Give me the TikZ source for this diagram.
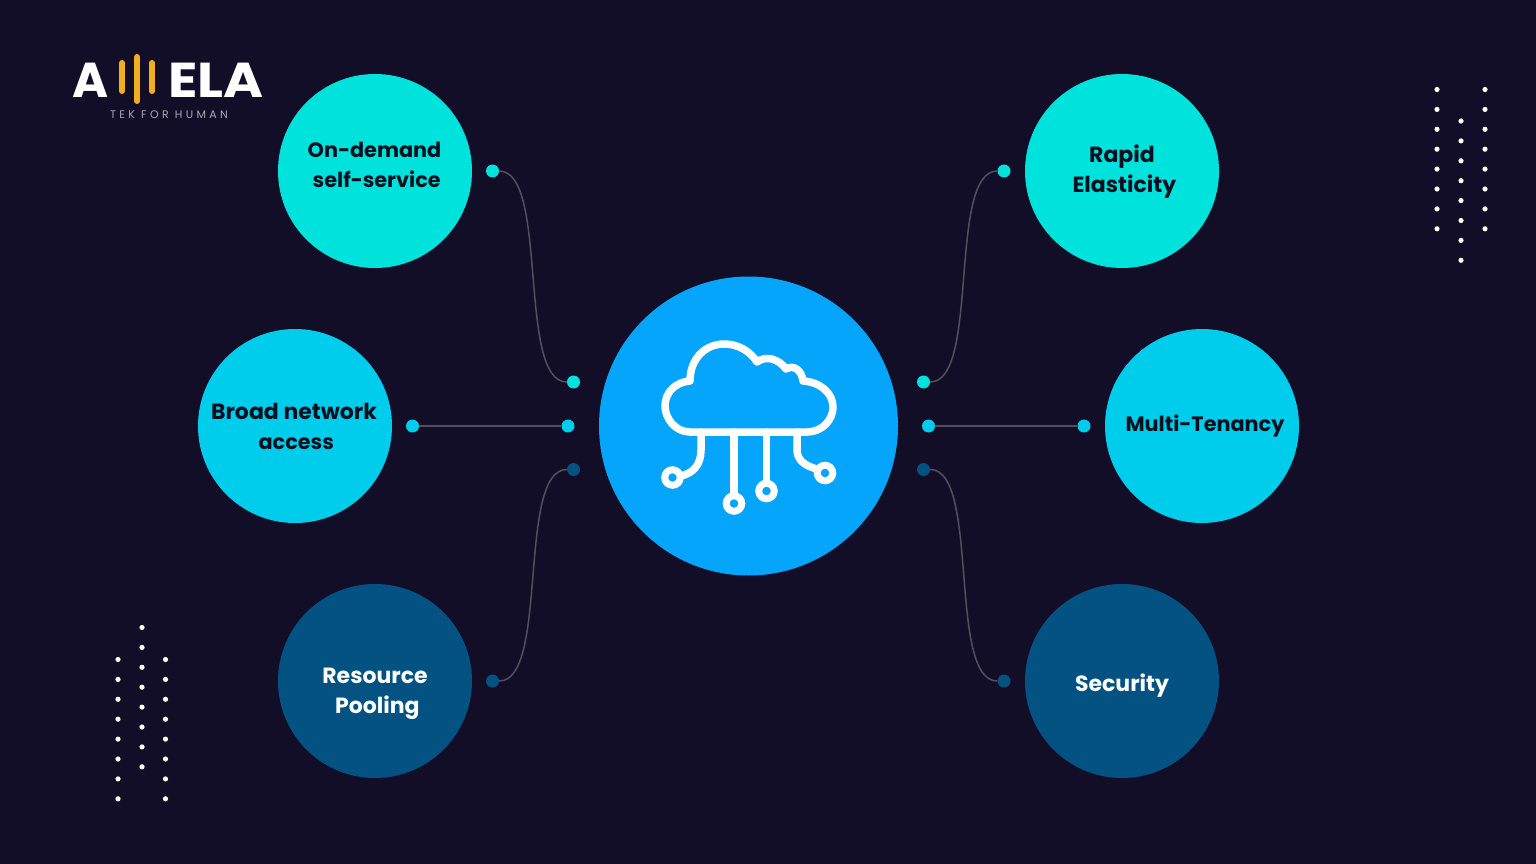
\documentclass[tikz,border=0pt]{standalone}
\usepackage{fontspec}
\setmainfont{Poppins}
\newfontfamily\tagfont[LetterSpace=30]{Poppins}
\usetikzlibrary{calc}
\definecolor{bgc}{HTML}{120E28}
\definecolor{tealc}{HTML}{00E3DD}
\definecolor{cyanc}{HTML}{00CDEB}
\definecolor{navyc}{HTML}{045282}
\definecolor{bluec}{HTML}{04A5FA}
\definecolor{linec}{HTML}{52505A}
\definecolor{darktxt}{HTML}{07101F}
\definecolor{goldc}{HTML}{F2AE1C}
\definecolor{tagc}{HTML}{A8A8B4}
\tikzset{
  feature/.style={circle,minimum size=194pt,inner sep=0pt},
  label22/.style={font=\fontsize{22}{30}\selectfont\bfseries,align=center},
  label21/.style={font=\fontsize{20.8}{30}\selectfont\bfseries,align=center},
  hubdot/.style={circle,minimum size=13pt,inner sep=0pt},
  link/.style={linec,line width=1.5pt},
  spark/.style={circle,fill=white,minimum size=5.2pt,inner sep=0pt},
  iconline/.style={white,line width=7.5pt,line cap=round,line join=round},
  iconring/.style={circle,draw=white,line width=7pt,minimum size=15.5pt,inner sep=0pt},
  bar/.style={goldc,line width=6pt,line cap=round},
  wordmark/.style={white,inner sep=0pt,font=\fontsize{49}{49}\selectfont\bfseries}
}
\begin{document}
\begin{tikzpicture}[x=1pt,y=-1pt]
\useasboundingbox (0,0) rectangle (1536,864);
\fill[bgc] (0,0) rectangle (1536,864);
% hub
\node[circle,fill=bluec,minimum size=299pt,inner sep=0pt] (hub) at (748.5,426) {};
% features
\node[feature,fill=tealc] (c1) at (375,171) {};
\node[label21,text=darktxt] (t1) at (374.5,165) {On-demand\\\ self-service};
\node[feature,fill=cyanc] (c2) at (295,426) {};
\node[label22,text=darktxt] (t2) at (294,426) {Broad network\\{\fontsize{20.8}{30}\selectfont\ access}};
\node[feature,fill=navyc] (c3) at (375,681) {};
\node[label22,text=white] (t3) at (375,694) {Resource\\\ Pooling};
\node[feature,fill=tealc] (c4) at (1122,171) {};
\node[label22,text=darktxt] (t4) at (1122,172) {Rapid\\\ Elasticity};
\node[feature,fill=cyanc] (c5) at (1202,426) {};
\node[label21,text=darktxt] (t5) at (1205,426) {Multi-Tenancy};
\node[feature,fill=navyc] (c6) at (1122,681) {};
\node[label22,text=white] (t6) at (1122,686) {Security};
% dots
\node[hubdot,fill=tealc] (a1) at (492.5,171) {};
\node[hubdot,fill=tealc] (b1) at (573.5,382) {};
\node[hubdot,fill=cyanc] (a2) at (412.5,426) {};
\node[hubdot,fill=cyanc] (b2) at (568,426) {};
\node[hubdot,fill=navyc] (a3) at (492.5,681) {};
\node[hubdot,fill=navyc] (b3) at (573.5,469.5) {};
\node[hubdot,fill=tealc] (a4) at (1004,171) {};
\node[hubdot,fill=tealc] (b4) at (923.5,382) {};
\node[hubdot,fill=cyanc] (a5) at (1084,426) {};
\node[hubdot,fill=cyanc] (b5) at (928.5,426) {};
\node[hubdot,fill=navyc] (a6) at (1004,681) {};
\node[hubdot,fill=navyc] (b6) at (923.5,469.5) {};
% connectors
\draw[link] (a1.east) .. controls ($(a1.east)+(50,0)$) and ($(b1.west)+(-50,0)$) .. (b1.west);
\draw[link] (a2) -- (b2);
\draw[link] (a3.east) .. controls ($(a3.east)+(50,0)$) and ($(b3.west)+(-50,0)$) .. (b3.west);
\draw[link] (a4.west) .. controls ($(a4.west)+(-50,0)$) and ($(b4.east)+(50,0)$) .. (b4.east);
\draw[link] (a5) -- (b5);
\draw[link] (a6.west) .. controls ($(a6.west)+(-50,0)$) and ($(b6.east)+(50,0)$) .. (b6.east);
% cloud icon
\draw[iconline] (701,432) -- (690,432)
  .. controls (675,432) and (665,418) .. (665,406)
  .. controls (665,392) and (676,382) .. (690,381)
  .. controls (690,358) and (706,344) .. (724,344)
  .. controls (738,344) and (750,351) .. (757,362)
  .. controls (766,355) and (779,359) .. (786,369)
  .. controls (794,364) and (802,371) .. (803,381)
  .. controls (820,382) and (833,393) .. (833,407)
  .. controls (833,420) and (822,432) .. (807,432) -- cycle;
\draw[iconline] (701,432) -- (701,450) .. controls (701,465) and (693,473) .. (681,476);
\draw[iconline] (734,432) -- (734,495);
\draw[iconline] (766.5,432) -- (766.5,483);
\draw[iconline] (797,432) -- (797,450) .. controls (797,460) and (805,466) .. (817,469);
\node[iconring] (r1) at (672.5,477.5) {};
\node[iconring] (r2) at (734,503.5) {};
\node[iconring] (r3) at (766.5,491) {};
\node[iconring] (r4) at (825,473) {};
% logo
\node[wordmark] (la) at (91,80) {A};
\draw[bar] (122,63) -- (122,91);
\draw[bar] (137,57) -- (137,101);
\draw[bar] (152,63) -- (152,91);
\node[wordmark] (lb) at (216,80) {\scalebox{1.11}[1]{ELA}};
\node[font=\fontsize{11}{11}\selectfont\tagfont,text=tagc] (lt) at (169,115) {TEK FOR HUMAN};
% sparkles right
\foreach \i in {0,...,7}{
  \node[spark] (ra\i) at (1437,{89.5+19.9*\i}) {};
  \node[spark] (rc\i) at (1485,{89.5+19.9*\i}) {};
  \node[spark] (rb\i) at (1461,{121+19.9*\i}) {};
}
% sparkles left
\foreach \i in {0,...,7}{
  \node[spark] (la\i) at (118,{659.5+19.9*\i}) {};
  \node[spark] (lc\i) at (165.5,{659.5+19.9*\i}) {};
  \node[spark] (lb\i) at (142,{627.5+19.9*\i}) {};
}
\end{tikzpicture}
\end{document}
